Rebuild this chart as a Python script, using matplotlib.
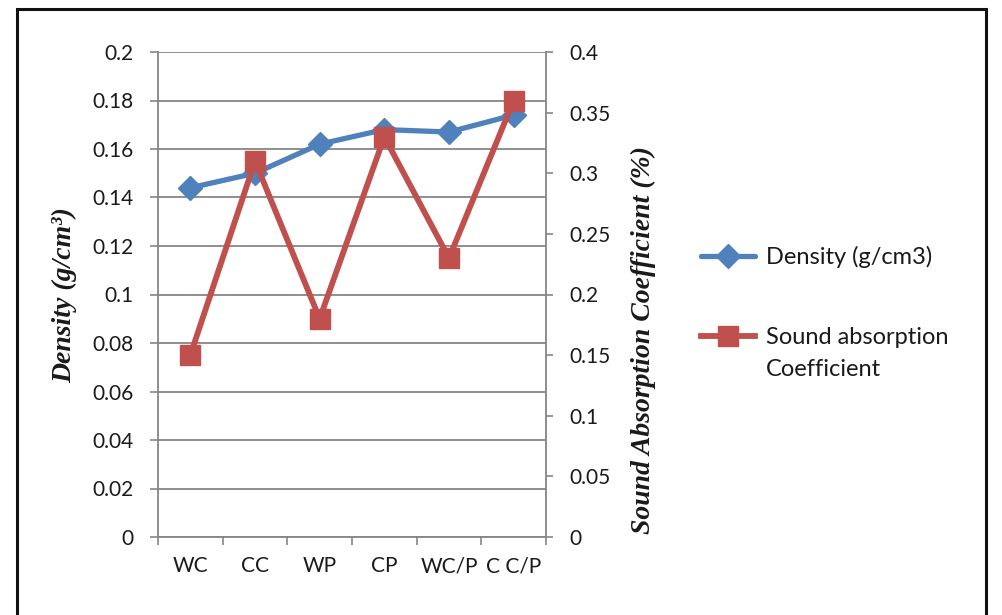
import matplotlib
matplotlib.use("Agg")
import matplotlib.pyplot as plt
from matplotlib.patches import Rectangle
import numpy as np

categories = ["WC", "CC", "WP", "CP", "WC/P", "C C/P"]
density = [0.144, 0.150, 0.162, 0.168, 0.167, 0.174]
sound = [0.15, 0.31, 0.18, 0.33, 0.23, 0.36]
left_ticks = [0, 0.02, 0.04, 0.06, 0.08, 0.1, 0.12, 0.14, 0.16, 0.18, 0.2]
left_labels = ["0", "0.02", "0.04", "0.06", "0.08", "0.1", "0.12", "0.14", "0.16", "0.18", "0.2"]
right_ticks = [0, 0.05, 0.1, 0.15, 0.2, 0.25, 0.3, 0.35, 0.4]
right_labels = ["0", "0.05", "0.1", "0.15", "0.2", "0.25", "0.3", "0.35", "0.4"]

BLUE = "#4F81BD"
RED = "#C0504D"
GRID = "#868686"
TXT = "#1a1a1a"
W, H = 1002, 615
FS = 15

plt.rcParams['font.family'] = ['Lato', 'DejaVu Sans']

fig = plt.figure(figsize=(W / 100, H / 100), dpi=100)
ax = fig.add_axes([158 / W, (H - 537) / H, 388 / W, 485 / H])
ax2 = ax.twinx()

x = np.arange(len(categories)) + 0.5
l1, = ax.plot(x, density, color=BLUE, lw=3.8, marker='D', ms=12,
              mfc=BLUE, mec=BLUE, solid_capstyle='round', zorder=3)
l2, = ax2.plot(x, sound, color=RED, lw=4.2, marker='s', ms=14,
               mfc=RED, mec=RED, zorder=3)

ax.set_xlim(0, len(categories))
ax.set_ylim(0, 0.2)
ax2.set_ylim(0, 0.4)

ax.set_yticks(left_ticks)
ax.set_yticklabels(left_labels)
ax2.set_yticks(right_ticks)
ax2.set_yticklabels(right_labels)

ax.set_xticks(np.arange(len(categories) + 1))
ax.set_xticklabels([])
ax.set_xticks(x, minor=True)
ax.set_xticklabels(categories, minor=True)
ax.tick_params(axis='x', which='major', length=5.5, width=1.2, color=GRID, direction='out')
ax.tick_params(axis='x', which='minor', length=0, pad=14, labelsize=FS, labelcolor=TXT)
ax.tick_params(axis='y', length=5.8, width=1.2, color=GRID, direction='out', pad=12,
               labelsize=FS, labelcolor=TXT)
ax2.tick_params(axis='y', length=5, width=1.2, color=GRID, direction='out', pad=12,
                labelsize=FS, labelcolor=TXT)

ax.yaxis.grid(True, color=GRID, lw=1.3)
ax.set_axisbelow(True)
for a in (ax, ax2):
    for s in a.spines.values():
        s.set_visible(False)
ax.spines['left'].set_visible(True)
ax.spines['bottom'].set_visible(True)
ax2.spines['right'].set_visible(True)
for s in (ax.spines['left'], ax.spines['bottom'], ax2.spines['right']):
    s.set_color(GRID)
    s.set_linewidth(1.3)

fig.text(65 / W, 1 - 295 / H, "Density (g/cm³)", rotation=90, ha='center', va='center',
         family='Liberation Serif', weight='bold', style='italic', fontsize=20, color=TXT)
fig.text(643 / W, 1 - 340 / H, "Sound Absorption Coefficient (%)", rotation=90,
         ha='center', va='center', family='Liberation Serif', weight='bold',
         style='italic', fontsize=20, color=TXT)

LFS = 17
leg = fig.legend([l1, l2], ["Density (g/cm3)", "Sound absorption"],
                 loc='upper left', bbox_to_anchor=(701 / W, 1 - 246 / H),
                 frameon=False, handlelength=2.3, handletextpad=0.45,
                 labelspacing=2.5, fontsize=LFS, borderaxespad=0, borderpad=0)
for t in leg.get_texts():
    t.set_color(TXT)
fig.canvas.draw()
bb = leg.get_texts()[1].get_window_extent()
fig.text(bb.x0 / W, (bb.y0 - 32) / H, "Coefficient", ha='left', va='bottom',
         fontsize=LFS, color=TXT)

fig.patches.append(Rectangle((17 / W, -0.02), (986 - 17) / W, (615 - 9) / H + 0.02,
                             transform=fig.transFigure, fill=False, lw=2.2,
                             edgecolor='#111111', figure=fig))

fig.savefig("out.png", dpi=100)
